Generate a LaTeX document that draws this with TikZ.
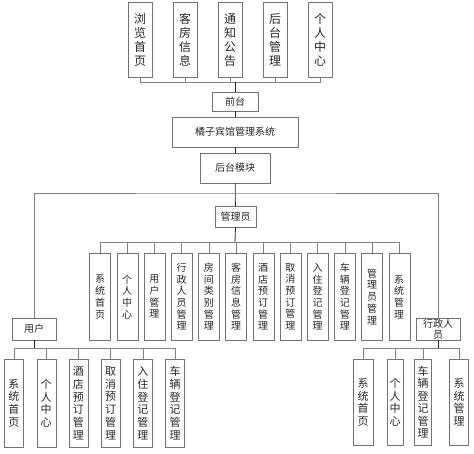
\documentclass[tikz,border=0pt]{standalone}
\usepackage{fontspec}
\setmainfont{Noto Sans CJK SC}
\usetikzlibrary{positioning}

\begin{document}
\begin{tikzpicture}[
    x=1pt, y=-1pt,
    box/.style={draw=black!55, rectangle, inner sep=0pt, align=center, text=black!85},
    vbox/.style={box, anchor=north, minimum height=#1},
    hbox/.style={box, font=\fontsize{10}{12}\selectfont},
    link/.style={draw=black!50, line width=0.6pt},
    stem/.style={draw=black!85, line width=0.8pt}
]
\useasboundingbox (0,0) rectangle (474,453);

% 前台功能
\foreach \n/\x/\t in {1/140/{浏\\览\\首\\页}, 2/185/{客\\房\\信\\息}, 3/230/{通\\知\\公\\告}, 4/275/{后\\台\\管\\理}, 5/320/{个\\人\\中\\心}}
    \node (front\n) [vbox=75, minimum width=24, font=\fontsize{12}{14}\selectfont] at (\x,2) {\t};

% 主干
\node (qiantai) [hbox, minimum width=46, minimum height=19] at (235,101.5) {前台};
\node (system) [hbox, minimum width=126, minimum height=30] at (235,132) {橘子宾馆管理系统};
\node (houtai) [hbox, minimum width=70, minimum height=30] at (235,168) {后台模块};
\node (admin) [hbox, minimum width=41, minimum height=21] at (235.5,216.5) {管理员};
\node (user) [hbox, minimum width=44, minimum height=22] at (34,329) {用户};
\node (staff) [hbox, minimum width=44, minimum height=22, font=\fontsize{10}{11}\selectfont] at (438,329) {行政人\\员};

% 管理员功能
\foreach \t [count=\n] in {{系\\统\\首\\页}, {个\\人\\中\\心}, {用\\户\\管\\理}, {行\\政\\人\\员\\管\\理}, {房\\间\\类\\别\\管\\理}, {客\\房\\信\\息\\管\\理}, {酒\\店\\预\\订\\管\\理}, {取\\消\\预\\订\\管\\理}, {入\\住\\登\\记\\管\\理}, {车\\辆\\登\\记\\管\\理}, {管\\理\\员\\管\\理}, {系\\统\\管\\理}}
    \node (adm\n) [vbox=87, minimum width=21, font=\fontsize{10}{11.7}\selectfont] at ({100+27.2*(\n-1)},253) {\t};

% 用户功能
\foreach \t [count=\n] in {{系\\统\\首\\页}, {个\\人\\中\\心}, {酒\\店\\预\\订\\管\\理}, {取\\消\\预\\订\\管\\理}, {入\\住\\登\\记\\管\\理}, {车\\辆\\登\\记\\管\\理}}
    \node (usr\n) [vbox=88, minimum width=19, font=\fontsize{11}{12.7}\selectfont] at ({14+32.2*(\n-1)},359) {\t};

% 行政人员功能
\foreach \n/\x/\w/\t in {1/363/20/{系\\统\\首\\页}, 2/395/16/{个\\人\\中\\心}, 3/423/17/{车\\辆\\登\\记\\管\\理}, 4/459/19/{系\\统\\管\\理}}
    \node (stf\n) [vbox=86, minimum width=\w, font=\fontsize{11}{12.5}\selectfont] at (\x,359) {\t};

% 连线
\coordinate (fbus) at (235,82);
\foreach \n in {1,...,5}
    \draw [link] (front\n.south) |- (fbus);
\draw [stem] (fbus) -- (qiantai.north);
\draw [stem] (qiantai) -- (system);
\draw [stem] (system) -- (houtai);
\draw [stem] (houtai) -- (admin);

\coordinate (bigbus) at (235,193);
\draw [link] (user.north) |- (bigbus) -| (staff.north);

\coordinate (abus) at (235,242);
\draw [stem] (admin.south) -- (abus);
\foreach \n in {1,...,12}
    \draw [link] (adm\n.north) |- (abus);

\draw [stem] (user.south) -- ++(0,8) coordinate (ubus);
\foreach \n in {1,...,6}
    \draw [link] (usr\n.north) |- (ubus);

\draw [stem] (staff.south) -- ++(0,8) coordinate (sbus);
\foreach \n in {1,...,4}
    \draw [link] (stf\n.north) |- (sbus);

\end{tikzpicture}
\end{document}
